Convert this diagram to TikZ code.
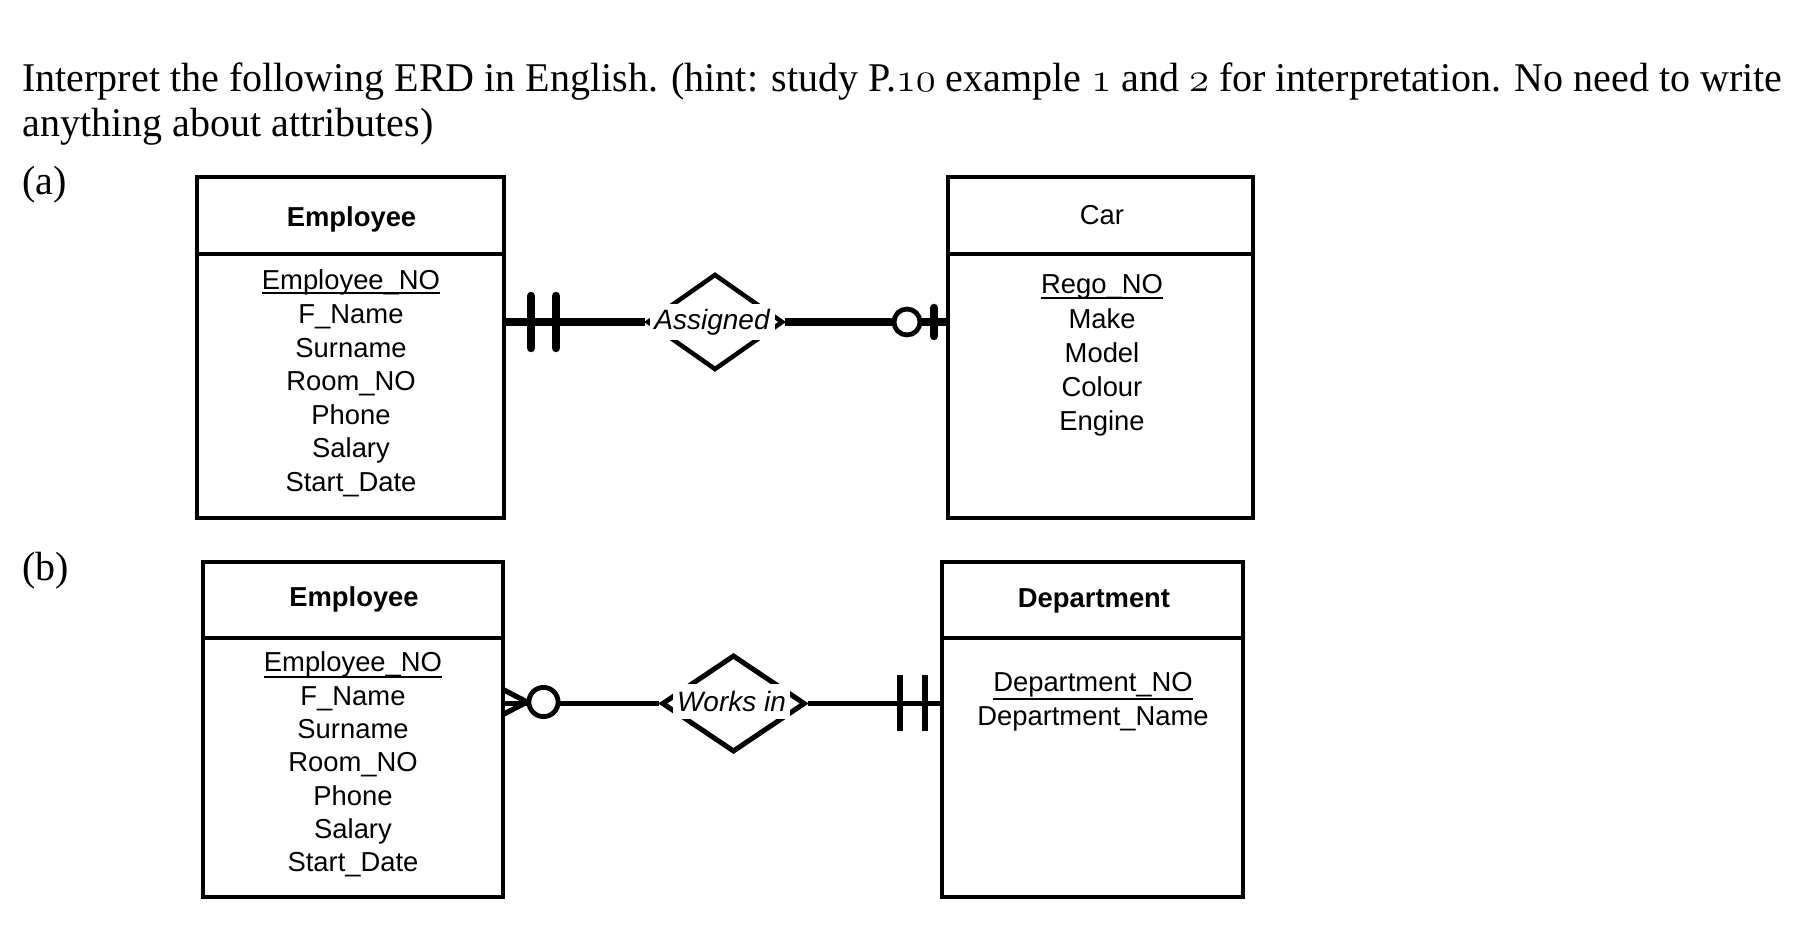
\documentclass[tikz,border=0pt]{standalone}
\usepackage{fontspec}
\usepackage{graphicx}
\usetikzlibrary{shapes.geometric}
\newfontfamily\arial{Liberation Sans}
\newfontfamily\serifq{Liberation Serif}
\newcommand\osn[1]{{\usefont{OML}{cmm}{m}{it}#1}}
\newcommand\topfont{\serifq\fontsize{20.4pt}{24pt}\selectfont}
\newcommand\lineonetext{Interpret the following ERD in English. (hint: study P.\osn{10} example \osn{1} and \osn{2} for interpretation. No need to write}
\newlength\lineonewd
\tikzset{
  ent/.style={draw, line width=2pt, inner sep=0},
  sepline/.style={line width=2pt},
  attr/.style={inner sep=0, anchor=base, font=\arial\fontsize{13.7pt}{16pt}\selectfont},
  ttl/.style={inner sep=0, anchor=base, font=\arial\bfseries\fontsize{13.7pt}{16pt}\selectfont},
  ul/.style={line width=1pt},
  rela/.style={draw, shape=diamond, line width=2.25pt, inner sep=0, minimum width=68pt, minimum height=48pt},
  relb/.style={draw, shape=diamond, line width=2.5pt, inner sep=0, minimum width=71.7pt, minimum height=48.5pt},
  rlab/.style={fill=white, inner sep=0, font=\arial\itshape\fontsize{14pt}{16pt}\selectfont},
  conA/.style={line width=4.25pt},
  barA/.style={line width=4.25pt, line cap=round},
  ringA/.style={line width=2.4pt, fill=white},
  conB/.style={line width=2.6pt},
  barB/.style={line width=3pt},
  ringB/.style={line width=2.4pt, fill=white},
  toptext/.style={anchor=base west, inner sep=0},
}
\begin{document}
\settowidth{\lineonewd}{\topfont\lineonetext}%
\pgfmathsetmacro\hs{880/\lineonewd}%
\begin{tikzpicture}[x=0.5pt, y=-0.5pt]
\useasboundingbox[fill=white] (0,0) rectangle (1812,952);

% question text
\node[toptext] (t1) at (22,92) {\scalebox{\hs}[1]{\topfont\lineonetext}};
\node[toptext] (t2) at (22,137) {\scalebox{\hs}[1]{\topfont anything about attributes)}};
\node[toptext] (pa) at (22,195) {\scalebox{\hs}[1]{\topfont (a)}};
\node[toptext] (pb) at (22,581) {\scalebox{\hs}[1]{\topfont (b)}};

% separator levels
\coordinate (sa) at (0,254.5);
\coordinate (sb) at (0,637.5);

% ---------------- (a) ----------------
\node[ent, minimum width=153.5pt, minimum height=170.5pt] (ea) at (350.5,348) {};
\node[ent, minimum width=152.5pt, minimum height=170.5pt] (ca) at (1100.5,348) {};
\draw[sepline] (ea.west |- sa) -- (ea.east |- sa);
\draw[sepline] (ca.west |- sa) -- (ca.east |- sa);

\node[ttl] (eat) at (351.5,226.5) {Employee};
\node[attr] (ea1) at (351,290) {Employee\_NO};
\node[attr] (ea2) at (351,323.6) {F\_Name};
\node[attr] (ea3) at (351,357.2) {Surname};
\node[attr] (ea4) at (351,390.8) {Room\_NO};
\node[attr] (ea5) at (351,424.4) {Phone};
\node[attr] (ea6) at (351,458) {Salary};
\node[attr] (ea7) at (351,491.6) {Start\_Date};
\draw[ul] ([yshift=-1.6pt]ea1.base west) -- ([yshift=-1.6pt]ea1.base east);

\node[attr] (cat) at (1102,225) {Car};
\node[attr] (ca1) at (1102,294) {Rego\_NO};
\node[attr] (ca2) at (1102,328.3) {Make};
\node[attr] (ca3) at (1102,362.6) {Model};
\node[attr] (ca4) at (1102,396.9) {Colour};
\node[attr] (ca5) at (1102,431) {Engine};
\draw[ul] ([yshift=-1.8pt]ca1.base west) -- ([yshift=-1.8pt]ca1.base east);

\node[rela] (ra) at (715,322) {};
\draw[conA] (ra.west -| ea.east) -- (ra.west);
\draw[conA] (ra.east) -- (ra.east -| ca.west);
\draw[barA] (531,296) -- (531,348);
\draw[barA] (556,296) -- (556,348);
\draw[ringA] (907,322) circle[radius=6.5pt];
\draw[barA] (934,308) -- (934,336);
\node[rlab, minimum width=62.5pt, minimum height=18pt] (la) at (712,322) {Assigned};

% ---------------- (b) ----------------
\node[ent, minimum width=150pt, minimum height=167.5pt] (eb) at (353,729.5) {};
\node[ent, minimum width=150.5pt, minimum height=167.5pt] (db) at (1092.5,729.5) {};
\draw[sepline] (eb.west |- sb) -- (eb.east |- sb);
\draw[sepline] (db.west |- sb) -- (db.east |- sb);

\node[ttl] (ebt) at (354,606.7) {Employee};
\node[attr] (eb1) at (353,671.7) {Employee\_NO};
\node[attr] (eb2) at (353,705) {F\_Name};
\node[attr] (eb3) at (353,738.3) {Surname};
\node[attr] (eb4) at (353,771.7) {Room\_NO};
\node[attr] (eb5) at (353,805) {Phone};
\node[attr] (eb6) at (353,838.3) {Salary};
\node[attr] (eb7) at (353,871.7) {Start\_Date};
\draw[ul] ([yshift=-2.4pt]eb1.base west) -- ([yshift=-2.4pt]eb1.base east);

\node[ttl] (dbt) at (1094,607.7) {Department};
\node[attr] (db1) at (1093,691.7) {Department\_NO};
\node[attr] (db2) at (1093,725) {Department\_Name};
\draw[ul] ([yshift=-3.4pt]db1.base west) -- ([yshift=-3.4pt]db1.base east);

\node[relb] (rb) at (733.5,703.5) {};
\draw[conB] (rb.west -| eb.east) -- (rb.west);
\draw[conB] (rb.east) -- (rb.east -| db.west);
\draw[conB] (504,690) -- (527,702) -- (504,714);
\draw[ringB] (543.5,702) circle[radius=7.3pt];
\draw[barB] (900,675) -- (900,731);
\draw[barB] (925,675) -- (925,731);
\node[rlab, minimum width=58.5pt, minimum height=17.5pt] (lb) at (731.5,701) {Works in};
\end{tikzpicture}
\end{document}
